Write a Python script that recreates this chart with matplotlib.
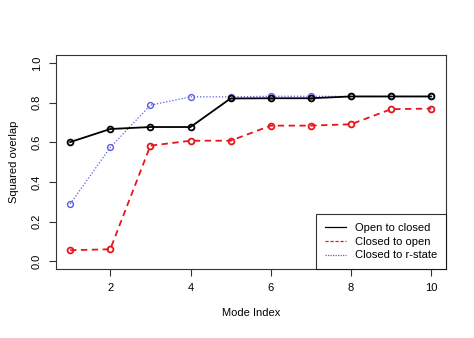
import matplotlib
matplotlib.use("Agg")
import matplotlib.pyplot as plt
from matplotlib.lines import Line2D

mode_index = [1, 2, 3, 4, 5, 6, 7, 8, 9, 10]
open_to_closed = [0.601, 0.667, 0.677, 0.677, 0.821, 0.822, 0.822, 0.831, 0.831, 0.831]
closed_to_open = [0.056, 0.061, 0.583, 0.608, 0.608, 0.684, 0.684, 0.691, 0.767, 0.770]
closed_to_rstate = [0.289, 0.574, 0.787, 0.829, 0.829, 0.832, 0.832, 0.831, 0.831, 0.831]
series_labels = ["Open to closed", "Closed to open", "Closed to r-state"]
x_ticks = [2, 4, 6, 8, 10]
y_ticks = [0.0, 0.2, 0.4, 0.6, 0.8, 1.0]

plt.rcParams['font.family'] = ['Liberation Sans', 'DejaVu Sans']
fs = 8

fig = plt.figure(figsize=(4.74, 3.38), dpi=100)
ax = fig.add_axes([0.1175, 0.2033, 0.9403 - 0.1175, 0.8373 - 0.2033])

blue = '#5a5ae0'
red = '#e8151b'
ax.plot(mode_index, closed_to_rstate, color=blue, linestyle=(0, (1, 1.5)), linewidth=0.9,
        marker='o', markersize=4.2, markerfacecolor='none', markeredgecolor=blue,
        markeredgewidth=1.0, zorder=2)
ax.plot(mode_index, closed_to_open, color=red, linestyle=(0, (3.5, 2.5)), linewidth=1.3,
        marker='o', markersize=4.2, markerfacecolor='none', markeredgewidth=1.3, zorder=3)
ax.plot(mode_index, open_to_closed, color='black', linestyle='-', linewidth=1.3,
        marker='o', markersize=4.2, markerfacecolor='none', markeredgewidth=1.3, zorder=4)

ax.set_xlim(0.64, 10.36)
ax.set_ylim(-0.04, 1.04)
ax.set_xticks(x_ticks)
ax.set_yticks(y_ticks)
ax.set_xticklabels([str(v) for v in x_ticks], fontsize=fs)
ax.set_yticklabels([f"{v:.1f}" for v in y_ticks], fontsize=fs, rotation=90, va='center')
ax.tick_params(axis='x', direction='out', length=5, width=0.8, color='#333333', pad=5)
ax.tick_params(axis='y', direction='out', length=5, width=0.8, color='#333333', pad=5)
for s in ax.spines.values():
    s.set_linewidth(0.8)
    s.set_color('#333333')

ax.set_xlabel("Mode Index", fontsize=fs, labelpad=11)
ax.set_ylabel("Squared overlap", fontsize=fs, labelpad=9)

handles = [
    Line2D([], [], color='black', linewidth=0.9),
    Line2D([], [], color=red, linewidth=0.9, linestyle=(0, (2.5, 1.5))),
    Line2D([], [], color=blue, linewidth=0.9, linestyle=(0, (1, 1))),
]
leg = ax.legend(handles, series_labels, loc='lower right', fontsize=fs, frameon=True,
                fancybox=False, edgecolor='black', borderaxespad=0, handlelength=1.9,
                labelspacing=0.33, handletextpad=0.8, borderpad=0.8)
leg.get_frame().set_linewidth(0.8)

fig.savefig("out.png", dpi=100)
